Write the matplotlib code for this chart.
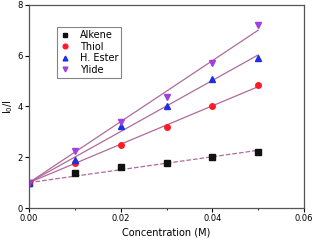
import numpy as np
import matplotlib
matplotlib.use("Agg")
import matplotlib.pyplot as plt
from matplotlib.ticker import MultipleLocator

conc = [0.0, 0.01, 0.02, 0.03, 0.04, 0.05]
alkene = [1.0, 1.37, 1.60, 1.78, 2.00, 2.22]
thiol = [1.0, 1.78, 2.48, 3.18, 4.03, 4.84]
hester = [1.0, 1.89, 3.24, 4.02, 5.07, 5.93]
ylide = [1.0, 2.24, 3.37, 4.38, 5.70, 7.23]

series = [
    ("Alkene", alkene, "s", "#111111", "--"),
    ("Thiol", thiol, "o", "#ff1a2a", "-"),
    ("H. Ester", hester, "^", "#1f2fe0", "-"),
    ("Ylide", ylide, "v", "#a040e0", "-"),
]

fig = plt.figure(figsize=(3.14, 2.41), dpi=100)
ax = fig.add_axes([29/314, 33/241, 275/314, 203/241])

x = np.array(conc)
for name, y, m, c, ls in series:
    y = np.array(y)
    slope = np.sum(x * (y - 1)) / np.sum(x * x)
    xx = np.array([0.0, 0.05])
    ax.plot(xx, 1 + slope * xx, ls, color="#b06a9a", lw=0.9, zorder=1)
    ax.plot(x, y, m, color=c, ms=4, ls="none", label=name, zorder=2)

ax.set_xlim(0, 0.06)
ax.set_ylim(0, 8)
ax.xaxis.set_major_locator(MultipleLocator(0.02))
ax.xaxis.set_minor_locator(MultipleLocator(0.01))
ax.yaxis.set_major_locator(MultipleLocator(2))
ax.xaxis.set_major_formatter(matplotlib.ticker.FormatStrFormatter("%.2f"))
ax.tick_params(which="major", direction="out", length=3, width=0.8, labelsize=6, pad=1.5)
ax.tick_params(which="minor", direction="out", length=1.5, width=0.6)
for s in ax.spines.values():
    s.set_color("#555555")
    s.set_linewidth(0.9)

ax.set_xlabel("Concentration (M)", fontsize=7, labelpad=3)
ax.set_ylabel(r"I$_0$/I", fontsize=7, labelpad=2)

leg = ax.legend(loc="upper left", bbox_to_anchor=(0.1, 0.89), fontsize=7,
                frameon=True, fancybox=False, handletextpad=0.9,
                borderpad=0.3, labelspacing=0.15, handlelength=1.2,
                borderaxespad=0, markerscale=0.85)
leg.get_frame().set_edgecolor("#666666")
leg.get_frame().set_linewidth(0.8)

fig.savefig("out.png", dpi=100)
